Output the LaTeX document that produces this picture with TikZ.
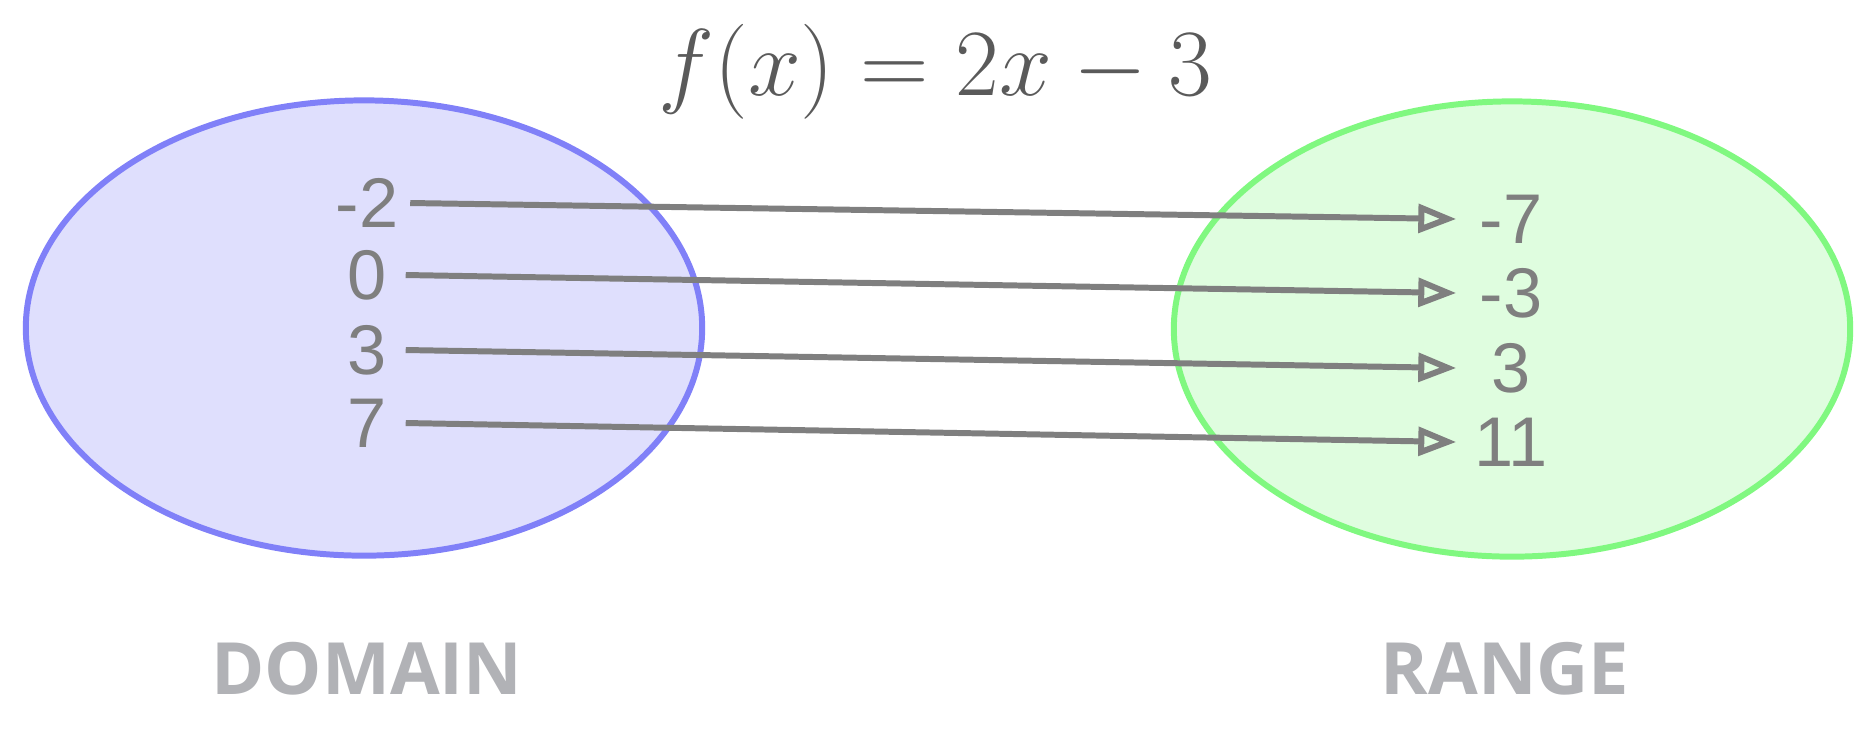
\RequirePackage{fix-cm}
\documentclass[tikz,border=0pt]{standalone}
\usepackage{fontspec}
\setmainfont{Liberation Sans}
\newfontfamily\labelfont{Open Sans}
\usetikzlibrary{arrows.meta,positioning,shapes.geometric}
\definecolor{Ink}{HTML}{7F7F7F}
\definecolor{Title}{HTML}{5A5A5A}
\definecolor{Caption}{HTML}{B1B2B6}
\definecolor{Blue}{HTML}{8080F8}
\definecolor{BlueLight}{HTML}{DFDFFD}
\definecolor{Green}{HTML}{80F880}
\definecolor{GreenLight}{HTML}{DFFDDF}
\tikzset{set/.style={ellipse,line width=1.7pt,minimum width=6.76cm,minimum height=4.55cm,inner sep=0pt},value/.style={text=Ink,font=\fontsize{20}{24}\selectfont,inner sep=0pt},caption/.style={text=Caption,font=\labelfont\bfseries\fontsize{20.5}{24}\selectfont},map/.style={-{Triangle[open,length=10.8pt,width=8pt]},line width=1.7pt,draw=Ink}}

\begin{document}
\begin{tikzpicture}[x=0.01cm,y=-0.01cm]
      \useasboundingbox (0,0) rectangle (1873,732);
      \node[set,draw=Blue,fill=BlueLight](dom) at (364,328){};
      \node[set,draw=Green,fill=GreenLight](ran) at (1512,329){};
      \node[text=Title,font=\fontsize{27}{32}\selectfont](title) at (935,72){$f(x)=2x-3$};
      % domain values
      \node[value,minimum width=0.85cm](d1) at (367,203){-2};
      \node[value,minimum width=0.76cm](d2) at (367,275){0};
      \node[value,minimum width=0.76cm](d3) at (367,350){3};
      \node[value,minimum width=0.76cm](d4) at (367,423){7};
      % range values
      \node[value,minimum width=1.08cm](r1) at (1511,219){-7};
      \node[value,minimum width=1.08cm](r2) at (1511,293){-3};
      \node[value,minimum width=1.08cm](r3) at (1511,368){3};
      \node[value,minimum width=1.08cm](r4) at (1511,442){11};
      \foreach \i in {1,...,4}{\draw[map](d\i.east)--(r\i.west);}
      \node[caption](domain) at (367,669){DOMAIN};
      \node[caption](range) at (1505,669){RANGE};
    \end{tikzpicture}
\end{document}
